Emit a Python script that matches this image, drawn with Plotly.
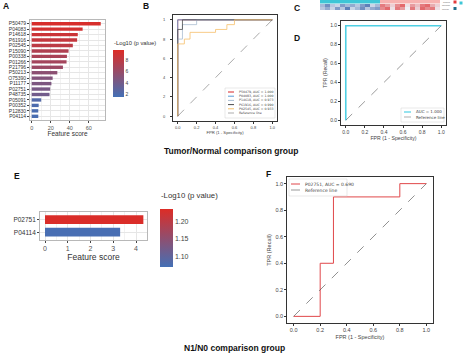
import plotly.graph_objects as go

W, H = 474, 354


def xd(a, b):
    return [a / W, b / W]


def yd(top, bottom):
    return [1 - bottom / H, 1 - top / H]


def px(x):
    return x / W


def py(y):
    return 1 - y / H


# ---------------- data ----------------
# Panel A: feature scores (tumor / normal)
a_proteins = ["P50479", "P04083", "P14618", "P61916", "P02545", "P15090", "P00338", "P01266",
              "P21796", "P50213", "O75390", "P11177", "P02751", "P48735", "P05091", "P00352",
              "P12830", "P04114"]
a_scores = [72.5, 53.5, 48.4, 47.7, 43.2, 38.7, 37.0, 36.6, 32.8, 26.9, 22.0, 20.7, 19.4, 18.7,
            10.0, 7.3, 6.9, 6.9]
a_logp = [9.5, 9.2, 8.8, 8.4, 8.0, 7.3, 7.0, 6.7, 6.2, 5.4, 4.9, 4.6, 4.3, 4.0, 2.3, 2.0, 1.9, 1.8]
a_cbar_ticks = [2, 4, 6, 8]
a_xticks = [0, 20, 40, 60]

# Panel B: ROC curves
b_names = ["P50479", "P04083", "P14618", "P61916", "P02545"]
b_auc = ["1.000", "1.000", "0.973", "0.990", "0.933"]
b_colors = ["#d62728", "#5b9bd5", "#a9bcd0", "#4d4d4d", "#f6bf6a"]
b_fpr = [
    [0, 0, 1],
    [0, 0, 1],
    [0, 0, 0.05, 0.05, 0.2, 0.2, 1],
    [0, 0, 0.05, 0.05, 1],
    [0, 0, 0.07, 0.07, 0.13, 0.13, 0.4, 0.4, 0.52, 0.52, 0.6, 0.6, 1],
]
b_tpr = [
    [0, 1, 1],
    [0, 1, 1],
    [0, 0.8, 0.8, 0.95, 0.95, 1, 1],
    [0, 0.9, 0.9, 1, 1],
    [0, 0.75, 0.75, 0.8, 0.8, 0.87, 0.87, 0.9, 0.9, 0.95, 0.95, 1, 1],
]
roc_ticks = [0.0, 0.2, 0.4, 0.6, 0.8, 1.0]
ref_line = [0, 1]

# Panel C: heatmap strip
c_group = [[0] * 12 + [1] * 12]
c_expr = [
    [-0.3, -0.5, -0.2, -0.6, -0.3, -0.8, -0.2, -0.4, -0.7, -0.3, -0.5, -0.6,
     0.6, 0.8, 0.1, 0.7, 0.5, 0.0, 0.7, 0.2, 0.8, 0.6, 0.7, 0.1],
    [-0.4, -0.7, -0.3, -0.2, -0.6, -0.4, -0.5, -0.3, -0.6, -0.8, -0.2, -0.4,
     0.7, 0.5, 0.2, 0.6, 0.8, 0.1, 0.5, 0.3, 0.7, 0.8, 0.4, 0.2],
]

# Panel D: ROC (combined model)
d_fpr = [0, 0, 1]
d_tpr = [0, 1, 1]

# Panel E: feature scores (N1 / N0)
e_proteins = ["P02751", "P04114"]
e_scores = [4.32, 3.30]
e_logp = [1.235, 1.072]
e_xticks = [0, 1, 2, 3, 4]
e_cbar_ticks = [1.10, 1.15, 1.20]

# Panel F: ROC for P02751
f_fpr = [0, 0.2, 0.2, 0.3, 0.3, 0.8, 0.8, 1]
f_tpr = [0, 0, 0.4, 0.4, 0.9, 0.9, 1.0, 1.0]

# ---------------- figure ----------------
scale_rb = [[0, "#4470b6"], [1, "#dd2c26"]]
fig = go.Figure()

# A
fig.add_trace(go.Bar(
    x=a_scores, y=a_proteins, orientation="h", width=0.62,
    marker=dict(color=a_logp, colorscale=scale_rb, cmin=1.5, cmax=9.8, line=dict(width=0),
                colorbar=dict(x=px(113), xanchor="left", y=py(50), yanchor="top",
                              lenmode="pixels", len=47, thickness=11, outlinewidth=0,
                              tickvals=a_cbar_ticks, ticks="", tickfont=dict(size=5, color="#444"),
                              ypad=0, xpad=0)),
    xaxis="x", yaxis="y", showlegend=False))

# B
for i in range(len(b_names)):
    fig.add_trace(go.Scatter(x=b_fpr[i], y=b_tpr[i], mode="lines",
                             line=dict(color=b_colors[i], width=0.8),
                             xaxis="x2", yaxis="y2", showlegend=False))
fig.add_trace(go.Scatter(x=ref_line, y=ref_line, mode="lines",
                         line=dict(color="#555", width=0.5, dash="dash"),
                         xaxis="x2", yaxis="y2", showlegend=False))

# C heatmap strip
fig.add_trace(go.Heatmap(z=c_group, colorscale=[[0, "#3ec6d6"], [1, "#f7b2b0"]], showscale=False,
                         xaxis="x3", yaxis="y3"))
fig.add_trace(go.Heatmap(z=c_expr, zmin=-1, zmax=1, showscale=False,
                         colorscale=[[0, "#3a64a8"], [0.5, "#eef1f6"], [1, "#e0474a"]],
                         xaxis="x3", yaxis="y7"))

# D
fig.add_trace(go.Scatter(x=d_fpr, y=d_tpr, mode="lines", line=dict(color="#4fd0e4", width=1.6),
                         xaxis="x4", yaxis="y4", showlegend=False))
fig.add_trace(go.Scatter(x=ref_line, y=ref_line, mode="lines",
                         line=dict(color="#555", width=0.6, dash="dash"),
                         xaxis="x4", yaxis="y4", showlegend=False))

# E
fig.add_trace(go.Bar(
    x=e_scores, y=e_proteins, orientation="h", width=0.7,
    marker=dict(color=e_logp, colorscale=scale_rb, cmin=1.068, cmax=1.238, line=dict(width=0),
                colorbar=dict(x=px(160), xanchor="left", y=py(209), yanchor="top",
                              lenmode="pixels", len=58, thickness=13, outlinewidth=0,
                              tickvals=e_cbar_ticks, ticktext=["1.10", "1.15", "1.20"], ticks="",
                              tickfont=dict(size=7, color="#444"), ypad=0, xpad=0)),
    xaxis="x5", yaxis="y5", showlegend=False))

# F
fig.add_trace(go.Scatter(x=f_fpr, y=f_tpr, mode="lines", line=dict(color="#e0474a", width=1),
                         xaxis="x6", yaxis="y6", showlegend=False))
fig.add_trace(go.Scatter(x=ref_line, y=ref_line, mode="lines",
                         line=dict(color="#444", width=0.6, dash="dash"),
                         xaxis="x6", yaxis="y6", showlegend=False))

GG = dict(showgrid=True, gridcolor="#e6e6e6", gridwidth=0.6, showline=True, mirror=True,
          linecolor="#b8b8b8", linewidth=0.8, ticks="outside", ticklen=2, tickcolor="#444",
          zeroline=False, fixedrange=True)
MPL = dict(showgrid=False, showline=True, mirror=True, linecolor="#333", linewidth=0.7,
           ticks="outside", ticklen=2, tickcolor="#333", tickwidth=0.6, zeroline=False,
           range=[-0.05, 1.05], tickvals=roc_ticks, ticktext=["0.0", "0.2", "0.4", "0.6", "0.8", "1.0"])

fig.update_layout(
    width=W, height=H, margin=dict(l=0, r=0, t=0, b=0, pad=0),
    paper_bgcolor="white", plot_bgcolor="white",
    font=dict(family="Liberation Sans, Arial", color="#333"),
    bargap=0.3,
    # A
    xaxis=dict(GG, domain=xd(30, 105), range=[-1.8, 77], tickvals=a_xticks,
               minor=dict(dtick=10, showgrid=True, gridcolor="#f2f2f2", ticklen=0),
               tickfont=dict(size=5.5, color="#555"),
               title=dict(text="Feature score", font=dict(size=6.5, color="#333"), standoff=1),
               anchor="y"),
    yaxis=dict(GG, domain=yd(20, 120), range=[17.68, -0.68], type="category",
               tickmode="array", tickvals=a_proteins, ticktext=a_proteins,
               tickfont=dict(size=5, color="#333"), anchor="x"),
    # B
    xaxis2=dict(MPL, domain=xd(173, 277), anchor="y2", tickfont=dict(size=4, color="#444"),
                title=dict(text="FPR (1 - Specificity)", font=dict(size=4.2, color="#444"), standoff=1)),
    yaxis2=dict(MPL, domain=yd(15, 121), anchor="x2", showticklabels=False),
    # C heatmap
    xaxis3=dict(domain=xd(320, 440), visible=False, anchor="y3", fixedrange=True),
    yaxis3=dict(domain=yd(0, 3.5), visible=False, anchor="x3", fixedrange=True),
    yaxis7=dict(domain=yd(4, 10), visible=False, anchor="x3", fixedrange=True),
    # D
    xaxis4=dict(MPL, domain=xd(341, 446), anchor="y4", tickfont=dict(size=5, color="#444"),
                title=dict(text="FPR (1 - Specificity)", font=dict(size=5.2, color="#444"), standoff=2)),
    yaxis4=dict(MPL, domain=yd(21, 125), anchor="x4", tickfont=dict(size=5, color="#444"),
                title=dict(text="TPR (Recall)", font=dict(size=5.2, color="#444"), standoff=2)),
    # E
    xaxis5=dict(GG, domain=xd(40, 147), range=[-0.22, 4.48], tickvals=e_xticks, anchor="y5",
                minor=dict(dtick=0.5, showgrid=True, gridcolor="#f2f2f2", ticklen=0),
                tickfont=dict(size=7, color="#555"),
                title=dict(text="Feature score", font=dict(size=8.5, color="#333"), standoff=1)),
    yaxis5=dict(GG, domain=yd(212, 240), range=[1.62, -0.62], type="category", anchor="x5",
                tickmode="array", tickvals=e_proteins, ticktext=e_proteins,
                tickfont=dict(size=6.5, color="#333")),
    # F
    xaxis6=dict(MPL, domain=xd(287, 433), anchor="y6", tickfont=dict(size=5.5, color="#444"),
                title=dict(text="FPR (1 - Specificity)", font=dict(size=5.5, color="#444"), standoff=2)),
    yaxis6=dict(MPL, domain=yd(177, 323), anchor="x6", tickfont=dict(size=5.5, color="#444"),
                title=dict(text="TPR (Recall)", font=dict(size=5.5, color="#444"), standoff=3)),
)

ann = []
# panel letters
for t, x, y in [("A", 6, 6), ("B", 146, 6), ("C", 297, 8), ("D", 297, 38), ("E", 17, 176), ("F", 268, 174)]:
    ann.append(dict(text="<b>%s</b>" % t, x=px(x), y=py(y), xref="paper", yref="paper",
                    xanchor="center", yanchor="middle", showarrow=False,
                    font=dict(size=8.5, color="#111", family="Liberation Sans, Arial")))
# colorbar titles
ann.append(dict(text="-Log10 (p value)", x=px(112), y=py(43), xref="paper", yref="paper",
                xanchor="left", yanchor="middle", showarrow=False, font=dict(size=5.8, color="#333")))
ann.append(dict(text="-Log10 (p value)", x=px(159), y=py(195), xref="paper", yref="paper",
                xanchor="left", yanchor="middle", showarrow=False, font=dict(size=7.8, color="#333")))
# group titles
ann.append(dict(text="<b>Tumor/Normal comparison group</b>", x=px(231), y=py(151), xref="paper", yref="paper",
                xanchor="center", yanchor="middle", showarrow=False, font=dict(size=8.5, color="#111")))
ann.append(dict(text="<b>N1/N0 comparison group</b>", x=px(234), y=py(348), xref="paper", yref="paper",
                xanchor="center", yanchor="middle", showarrow=False, font=dict(size=8.5, color="#111")))
# B clipped y tick marks text
for v, lab in zip(roc_ticks, ["0", "2", "4", "6", "8", "1"]):
    ann.append(dict(text=lab, x=px(168), xref="paper", y=v, yref="y2", xanchor="right", yanchor="middle",
                    showarrow=False, font=dict(size=4, color="#444")))

shapes = []


def legend(x0, y0, rows, dy, linelen, fsize, box=None):
    for i, (lab, col, dash, w) in enumerate(rows):
        yy = y0 + i * dy
        shapes.append(dict(type="line", xref="paper", yref="paper", x0=px(x0), x1=px(x0 + linelen),
                           y0=py(yy), y1=py(yy), line=dict(color=col, width=w, dash=dash)))
        ann.append(dict(text=lab, x=px(x0 + linelen + 2.5), y=py(yy), xref="paper", yref="paper",
                        xanchor="left", yanchor="middle", showarrow=False,
                        font=dict(size=fsize, color="#444", family="DejaVu Sans")))
    if box:
        shapes.append(dict(type="rect", xref="paper", yref="paper", x0=px(box[0]), x1=px(box[1]),
                           y0=py(box[2]), y1=py(box[3]), line=dict(color="#d0d0d0", width=0.5)))


legend(228, 92, [("%s, AUC = %s" % (n, a), c, "solid", 1.0) for n, a, c in zip(b_names, b_auc, b_colors)]
       + [("Reference line", "#777", "dash", 0.6)], 4.2, 6, 3.2, box=(225, 275, 88, 118))
legend(404, 112, [("AUC = 1.000", "#4fd0e4", "solid", 1.2), ("Reference line", "#777", "dash", 0.6)],
       5, 7, 4, box=(401, 444, 108, 122))
legend(291, 184, [("P02751, AUC = 0.690", "#e0474a", "solid", 1.0), ("Reference line", "#555", "dash", 0.6)],
       6, 9, 4.5, box=(289, 347, 179, 196))

# C mini legend
for (x, y, c) in [(455, 2, "#e23b3b"), (455, 8.5, "#1f6f8b"), (461, 3, "#3ec6d6")]:
    shapes.append(dict(type="rect", xref="paper", yref="paper", x0=px(x - 1.5), x1=px(x + 1.5),
                       y0=py(y + 1.5), y1=py(y - 1.5), line=dict(width=0), fillcolor=c))
for t, x, y in [("Tumor", 446, 2.5), ("Normal", 446, 6), ("Group", 446, 9.5)]:
    ann.append(dict(text=t, x=px(x), y=py(y), xref="paper", yref="paper", xanchor="center",
                    yanchor="middle", showarrow=False, font=dict(size=2.5, color="#666")))

fig.update_layout(annotations=ann, shapes=shapes)
fig.write_html("out.html")
